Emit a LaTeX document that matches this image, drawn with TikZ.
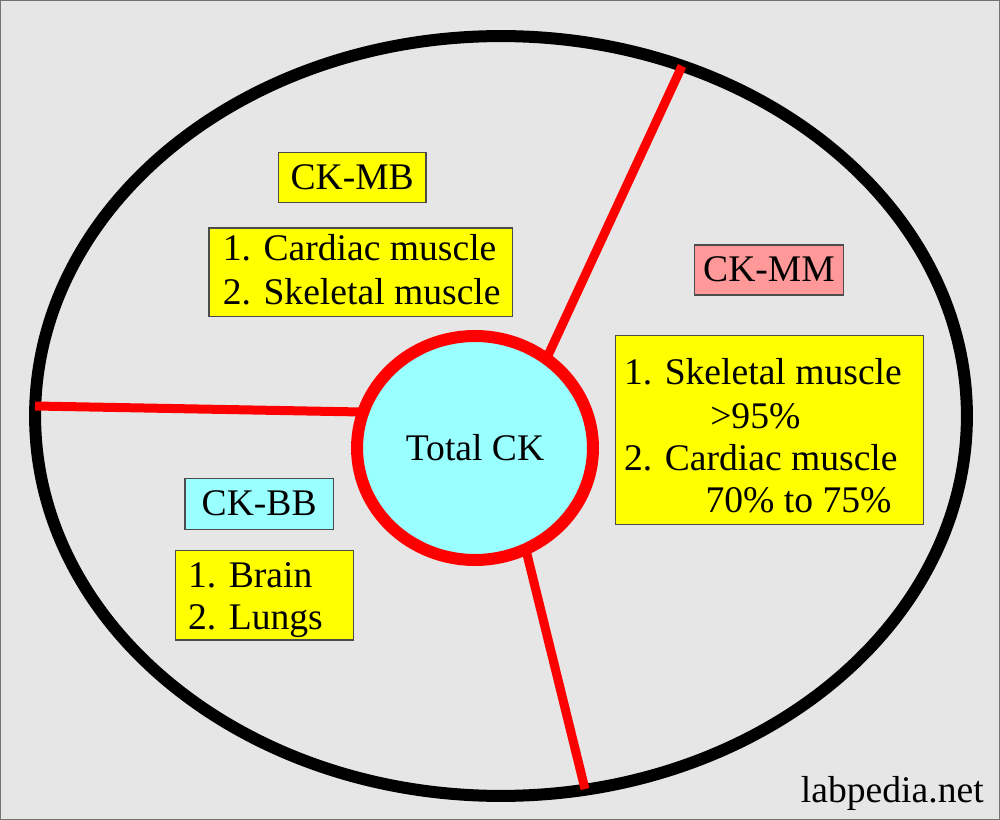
\documentclass[tikz,border=0pt]{standalone}
\usepackage{fontspec}
\setmainfont{Liberation Serif}
\usetikzlibrary{shapes.geometric}
\definecolor{bgc}{RGB}{230,230,230}
\definecolor{boxyellow}{RGB}{255,255,0}
\definecolor{boxpink}{RGB}{255,153,153}
\definecolor{boxcyan}{RGB}{153,255,255}
\definecolor{rimred}{RGB}{255,0,0}
\begin{document}
\begin{tikzpicture}[x=0.02cm,y=-0.02cm,
  txt/.style={font=\fontsize{21.4}{25}\selectfont, inner sep=0pt, text=black},
  box/.style={draw=black!70, line width=0.7pt, inner sep=0pt},
  tag/.style={box, txt, anchor=base, minimum width=2.96cm},
  line/.style={txt, anchor=base west},
  spoke/.style={draw=rimred, line width=0.18cm, shorten >=-0.12cm},
]
\useasboundingbox (0,0) rectangle (1000,820);
\fill[bgc] (0,0) rectangle (1000,820);
\draw[black!55, line width=0.03cm] (0.75,0.75) rectangle (999.25,819.25);

% outer ellipse
\draw[black, line width=0.24cm] (501,416) ellipse [x radius=9.32cm, y radius=7.6cm];
\coordinate (e1) at (682,66);
\coordinate (e2) at (35,406);
\coordinate (e3) at (585,789);

% centre
\node[ellipse, draw=rimred, line width=0.24cm, fill=boxcyan, minimum width=4.72cm,
      minimum height=4.48cm, inner sep=0pt, txt] (total) at (475,448) {Total CK};
\draw[spoke] (e1) -- (total.52.5);
\draw[spoke] (e2) -- (total.163.7);
\draw[spoke] (e3) -- (total.296.6);

% CK-MB
\node[tag, fill=boxyellow, minimum width=2.954cm, text height=0.732cm, text depth=0.26cm]
  (mb) at (352.2,189.3) {CK-MB};
\node[box, fill=boxyellow, anchor=north west, minimum width=6.08cm, minimum height=1.774cm]
  (mblistbox) at (208.3,227.3) {};
\node[line] (mb1) at (222.5,260.7) {1. Cardiac muscle};
\node[line] (mb2) at (222.5,305) {2. Skeletal muscle};

% CK-MM
\node[tag, fill=boxpink, minimum width=2.966cm, text height=0.734cm, text depth=0.266cm]
  (mm) at (769,281.7) {CK-MM};
\node[box, fill=boxyellow, anchor=north west, minimum width=6.166cm, minimum height=3.78cm]
  (mmlistbox) at (615,335) {};
\node[line] (mm1) at (623.7,384.5) {1. Skeletal muscle};
\node[line] (mm2) at (709.9,428.3) {>95\%};
\node[line] (mm3) at (623.7,470) {2. Cardiac muscle};
\node[line] (mm4) at (705.2,512.7) {70\% to 75\%};

% CK-BB
\node[tag, fill=boxcyan, minimum width=2.966cm, text height=0.734cm, text depth=0.286cm]
  (bb) at (259.2,515) {CK-BB};
\node[box, fill=boxyellow, anchor=north west, minimum width=3.566cm, minimum height=1.786cm]
  (bblistbox) at (175,550) {};
\node[line] (bb1) at (187.8,587.7) {1. Brain};
\node[line] (bb2) at (187.8,629.3) {2. Lungs};

% watermark
\node[txt, anchor=base east] (site) at (984,802) {labpedia.net};
\end{tikzpicture}
\end{document}
